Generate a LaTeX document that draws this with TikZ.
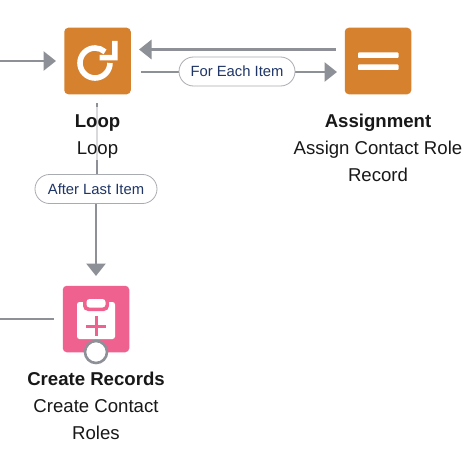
\documentclass[tikz,border=0pt]{standalone}
\usepackage{fontspec}
\setmainfont{Liberation Sans}
\usetikzlibrary{arrows.meta}
\definecolor{wire}{HTML}{8E9097}
\definecolor{faint}{HTML}{D9D9DC}
\definecolor{orangebox}{HTML}{D6812D}
\definecolor{pinkbox}{HTML}{EF6290}
\definecolor{pilltext}{HTML}{1F3566}
\definecolor{pillline}{HTML}{A9ABB2}
\definecolor{ink}{HTML}{181818}
\tikzset{
 x=1pt,y=-1pt,
 tile/.style={minimum size=66.5pt,inner sep=0,rounded corners=4pt,fill=#1,text=white},
 wirestyle/.style={draw=wire,line width=2.8pt},
 arrowwire/.style={wirestyle,-{Triangle[length=12.5pt,width=19pt]}},
 pill/.style={draw=pillline,line width=.8pt,fill=white,rounded corners=14.5pt,minimum height=29pt,text=pilltext,font=\fontsize{14.8}{16}\selectfont,inner sep=0},
 titletext/.style={text=ink,font=\fontsize{18.6}{20}\selectfont\bfseries,inner sep=0,anchor=base},
 subtext/.style={text=ink,font=\fontsize{18.6}{20}\selectfont,inner sep=0,anchor=base},
}
\begin{document}
\begin{tikzpicture}
\useasboundingbox (0,0) rectangle (474,460);
\fill[white] (0,0) rectangle (474,460);
% tiles
\node[tile=orangebox] (loop) at (97.5,61) {};
\node[tile=orangebox] (assign) at (378,61) {};
\node[tile=pinkbox] (create) at (96,319) {};
% free ends
\coordinate (inL) at (0,61);
\coordinate (inR) at (56,61);
\coordinate (retS) at (336,49.5);
\coordinate (retE) at (139,49.5);
\coordinate (fwdS) at (141,72);
\coordinate (fwdE) at (337,72);
\coordinate (dnS) at (97,103);
\coordinate (dnM) at (97,107);
\coordinate (dnF) at (97,160);
\coordinate (dnG) at (97,180);
\coordinate (dnH) at (96,198);
\coordinate (dnE) at (96,276);
\coordinate (crL) at (0,319);
\coordinate (crR) at (54,319);
% connectors
\draw[arrowwire] (inL) -- (inR);
\draw[arrowwire] (retS) -- (retE);
\draw[arrowwire] (fwdS) -- (fwdE);
\draw[wirestyle] (dnS) -- (dnM);
\draw[draw=faint,line width=2.8pt] (dnM) -- (dnF);
\draw[wirestyle] (dnF) -- (dnG);
\draw[arrowwire] (dnH) -- (dnE);
\draw[wirestyle] (crL) -- (crR);
% pills
\node[pill,minimum width=116pt] (each) at (237,71.5) {For Each Item};
\node[pill,minimum width=122pt] (last) at (96,189) {After Last Item};
% loop icon
\draw[white,line width=5.6pt] (110,63) arc[start angle=0,end angle=312,radius=15];
\fill[white] (112,41) -- (117.5,41) -- (117.5,60.5) -- (99.5,60.5) -- (99.5,55) -- (112,55) -- cycle;
% assignment icon
\fill[white,rounded corners=.8pt] (358,52.5) rectangle (398.5,58);
\fill[white,rounded corners=.8pt] (358,64.5) rectangle (398.5,70);
% create records icon
\fill[white,rounded corners=2.5pt] (77,302) rectangle (115,339);
\fill[pinkbox,rounded corners=5pt] (83,296) rectangle (109,311);
\fill[white,rounded corners=3pt] (86.5,299) rectangle (105.5,307.5);
\fill[pinkbox] (94.5,316) rectangle (97.5,336);
\fill[pinkbox] (86,324.5) rectangle (106,327.5);
\node[circle,draw=wire,fill=white,line width=2.6pt,minimum size=22pt,inner sep=0] (port) at (96,352) {};
% labels
\node[titletext] (t1) at (97.5,127) {Loop};
\node[subtext] (s1) at (97.5,154.5) {Loop};
\node[titletext] (t2) at (378,127) {Assignment};
\node[subtext] (s2) at (378,154.5) {Assign Contact Role};
\node[subtext] (s3) at (378,181) {Record};
\node[titletext] (t3) at (96,385) {Create Records};
\node[subtext] (s4) at (96,412.5) {Create Contact};
\node[subtext] (s5) at (96,439) {Roles};
\end{tikzpicture}
\end{document}
